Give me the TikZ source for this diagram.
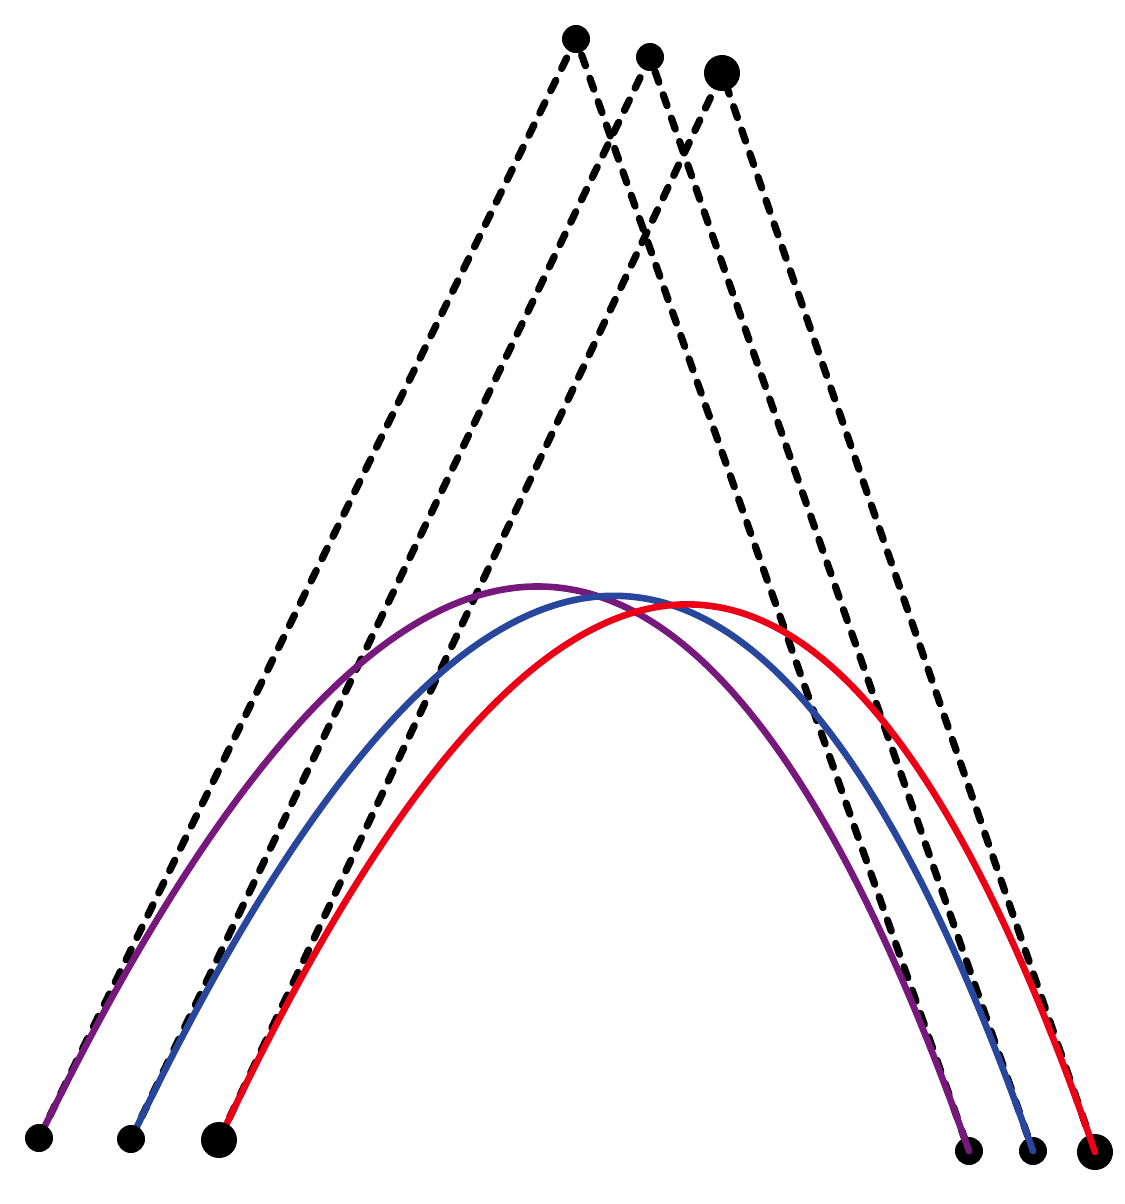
\documentclass[tikz,border=0pt]{standalone}
\usetikzlibrary{calc}
\definecolor{cpurple}{RGB}{118,24,124}
\definecolor{cblue}{RGB}{40,70,155}
\definecolor{cred}{RGB}{235,0,22}
\begin{document}
\begin{tikzpicture}[x=0.5pt,y=-0.5pt,
  dot/.style={circle,fill=black,inner sep=0pt,minimum size=14pt},
  bigdot/.style={circle,fill=black,inner sep=0pt,minimum size=18pt},
  guide/.style={black,line width=3.6pt,line cap=round,dash pattern=on 5.8pt off 6.6pt},
  traj/.style={line width=3.3pt,line cap=round,line join=round}]
\useasboundingbox (0,0) rectangle (1124,1204);
% anchor points
\coordinate (T1) at (576,39);
\coordinate (T2) at (650,57);
\coordinate (T3) at (722,73);
\coordinate (B1) at (39,1138);
\coordinate (B2) at (131,1139);
\coordinate (B3) at (219,1140);
\coordinate (R1) at (969,1151);
\coordinate (R2) at (1033,1151);
\coordinate (R3) at (1095,1152);
% dashed guides
\draw[guide] (B1) -- (T1) -- (R1);
\draw[guide] (B2) -- (T2) -- (R2);
\draw[guide] (B3) -- (T3) -- (R3);
% dots
\node[dot] (t1) at (T1) {};
\node[dot] (t2) at (T2) {};
\node[bigdot] (t3) at (T3) {};
\node[dot] (r1) at (R1) {};
\node[dot] (r2) at (R2) {};
\node[bigdot] (r3) at (R3) {};
% trajectories (quadratic Beziers)
\draw[traj,cpurple] (B1) .. controls ($(B1)!0.673!(T1)$) and ($(R1)!0.673!(T1)$) .. (R1);
\draw[traj,cblue] (B2) .. controls ($(B2)!0.673!(T2)$) and ($(R2)!0.673!(T2)$) .. (R2);
\draw[traj,cred] (B3) .. controls ($(B3)!0.673!(T3)$) and ($(R3)!0.673!(T3)$) .. (R3);
% left dots on top
\node[dot] (b1) at (B1) {};
\node[dot] (b2) at (B2) {};
\node[bigdot] (b3) at (B3) {};
\end{tikzpicture}
\end{document}
